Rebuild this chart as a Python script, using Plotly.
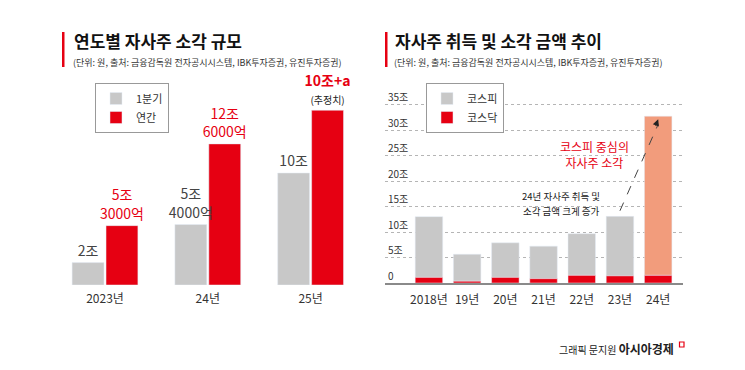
import plotly.graph_objects as go

W, H = 745, 370


def px(x):
    return x / W


def py(y):
    return 1 - y / H


RED = "#E60012"
GREY = "#C8C8C8"
SALMON = "#F29C7C"
DARK = "#333333"
FONT = "Noto Sans CJK KR"

# ---- Left chart data: 연도별 자사주 소각 규모 (조 원) ----
left_years = ["2023년", "24년", "25년"]
q1_values = [2.0, 5.4, 10.0]
annual_values = [5.3, 12.6, 15.6]
q1_labels = ["2조", "5조<br>4000억", "10조"]
annual_labels = [
    "5조<br>3000억",
    "12조<br>6000억",
    "<b>10조+a</b><br><span style='color:#222222;font-size:10px'>(추정치)</span>",
]

# ---- Right chart data: 자사주 취득 및 소각 금액 추이 (조 원) ----
right_years = ["2018년", "19년", "20년", "21년", "22년", "23년", "24년"]
kospi_values = [11.95, 5.3, 6.8, 6.4, 8.2, 11.7, 31.3]
kosdaq_values = [1.1, 0.35, 1.1, 0.85, 1.5, 1.4, 1.5]
y_ticks = [0, 5, 10, 15, 20, 25, 30, 35]
y_tick_labels = ["0", "5조", "10조", "15조", "20조", "25조", "30조", "35조"]
highlight_year = "24년"
arrow_start = ("23년", 14.2)
arrow_end = ("24년", 32.2)

kospi_colors = [SALMON if y == highlight_year else GREY for y in right_years]

fig = go.Figure()

# Left chart bars (annual first so the 1분기 labels are drawn on top)
fig.add_trace(go.Bar(
    x=left_years, y=annual_values, name="연간", marker_color=RED,
    width=0.31, offset=0.01, text=annual_labels, textposition="outside",
    textfont=dict(size=14, color=RED, family=FONT),
    cliponaxis=False, constraintext="none", legend="legend",
    xaxis="x", yaxis="y",
))
fig.add_trace(go.Bar(
    x=left_years, y=q1_values, name="1분기", marker_color=GREY,
    width=0.31, offset=-0.32, text=q1_labels, textposition="outside",
    textfont=dict(size=14, color="#444444", family=FONT),
    cliponaxis=False, constraintext="none", legend="legend",
    xaxis="x", yaxis="y",
))

# Right chart bars (stacked via base)
fig.add_trace(go.Bar(
    x=right_years, y=kospi_values, base=kosdaq_values, name="코스피",
    marker_color=kospi_colors, width=0.72, legend="legend2",
    xaxis="x2", yaxis="y2",
))
fig.add_trace(go.Bar(
    x=right_years, y=kosdaq_values, name="코스닥",
    marker_color=RED, width=0.72, legend="legend2",
    xaxis="x2", yaxis="y2",
))

annotations = [
    dict(text="<b>연도별 자사주 소각 규모</b>", x=px(72), y=py(41), xref="paper", yref="paper",
         xanchor="left", yanchor="middle", showarrow=False,
         font=dict(size=17, color="#111111", family=FONT)),
    dict(text="(단위: 원, 출처: 금융감독원 전자공시시스템, IBK투자증권, 유진투자증권)",
         x=px(71), y=py(62), xref="paper", yref="paper",
         xanchor="left", yanchor="middle", showarrow=False,
         font=dict(size=9, color=DARK, family=FONT)),
    dict(text="<b>자사주 취득 및 소각 금액 추이</b>", x=px(393), y=py(41), xref="paper", yref="paper",
         xanchor="left", yanchor="middle", showarrow=False,
         font=dict(size=17, color="#111111", family=FONT)),
    dict(text="(단위: 원, 출처: 금융감독원 전자공시시스템, IBK투자증권, 유진투자증권)",
         x=px(392), y=py(62), xref="paper", yref="paper",
         xanchor="left", yanchor="middle", showarrow=False,
         font=dict(size=9, color=DARK, family=FONT)),
    dict(text="코스피 중심의<br>자사주 소각", x=px(594), y=py(155), xref="paper", yref="paper",
         xanchor="center", yanchor="middle", showarrow=False, align="center",
         font=dict(size=12, color=RED, family=FONT)),
    dict(text="24년 자사주 취득 및", x=px(561), y=py(196), xref="paper", yref="paper",
         xanchor="center", yanchor="middle", showarrow=False, align="center", borderpad=0,
         font=dict(size=9.5, color="#222222", family=FONT)),
    dict(text="소각 금액 크게 증가", x=px(561), y=py(211), xref="paper", yref="paper",
         xanchor="center", yanchor="middle", showarrow=False, align="center", borderpad=0,
         font=dict(size=9.5, color="#222222", family=FONT)),
    dict(text="그래픽 문지원 <span style='font-size:12px'><b>아시아경제</b></span>",
         x=px(676), y=py(348), xref="paper", yref="paper",
         xanchor="right", yanchor="middle", showarrow=False,
         font=dict(size=10, color="#222222", family=FONT)),
    # arrow head
    dict(text="", x=arrow_end[0], y=arrow_end[1], xref="x2", yref="y2",
         ax=-3, ay=8, showarrow=True, arrowhead=2, arrowsize=1.3, arrowwidth=1,
         arrowcolor="#222222"),
]

shapes = [
    dict(type="rect", xref="paper", yref="paper", x0=px(62), x1=px(64.5), y0=py(67), y1=py(32),
         fillcolor=RED, line=dict(width=0)),
    dict(type="rect", xref="paper", yref="paper", x0=px(385), x1=px(387.5), y0=py(67), y1=py(32),
         fillcolor=RED, line=dict(width=0)),
    dict(type="line", xref="x2", yref="y2", x0=arrow_start[0], y0=arrow_start[1],
         x1=arrow_end[0], y1=arrow_end[1] - 1.0,
         line=dict(color="#444444", width=1, dash="dash")),
    dict(type="rect", xref="paper", yref="paper", x0=px(679.5), x1=px(684), y0=py(347), y1=py(342),
         fillcolor="rgba(0,0,0,0)", line=dict(color=RED, width=1.2)),
]

Y2_MAX = 40
Y2_PX_PER_UNIT = 5.086

fig.update_layout(
    width=W, height=H,
    margin=dict(l=0, r=0, t=0, b=0),
    paper_bgcolor="white", plot_bgcolor="white",
    barmode="overlay",
    font=dict(family=FONT, color=DARK),
    xaxis=dict(domain=[px(53.6), px(362)], range=[-0.5, 2.5], type="category",
               anchor="y", showline=False, showgrid=False, ticks="",
               ticklabelstandoff=5,
               tickfont=dict(size=12, color=DARK, family=FONT)),
    yaxis=dict(domain=[py(285), py(83.4)], range=[0, 18], anchor="x", visible=False),
    xaxis2=dict(domain=[px(385), px(683)], range=[-1.15, 6.65], type="category",
                anchor="y2", showline=True, linecolor="#8A8A8A", linewidth=1.5,
                showgrid=False, ticks="", ticklabelstandoff=5,
                tickfont=dict(size=12, color=DARK, family=FONT)),
    yaxis2=dict(domain=[py(283), py(283 - Y2_MAX * Y2_PX_PER_UNIT)], range=[0, Y2_MAX], anchor="x2",
                tickmode="array", tickvals=y_ticks, ticktext=y_tick_labels,
                ticklabelposition="inside top", ticklabeloverflow="allow", ticks="",
                showgrid=True, gridcolor="#B5B5B5", griddash="dot", gridwidth=1,
                zeroline=False, showline=False,
                tickfont=dict(size=10, color=DARK, family=FONT)),
    legend=dict(x=px(95), y=py(83), xanchor="left", yanchor="top",
                bgcolor="white", bordercolor="#999999", borderwidth=1,
                traceorder="reversed",
                font=dict(size=11, color=DARK, family=FONT)),
    legend2=dict(x=px(426), y=py(83), xanchor="left", yanchor="top",
                 bgcolor="white", bordercolor="#999999", borderwidth=1,
                 font=dict(size=11, color=DARK, family=FONT)),
    annotations=annotations,
    shapes=shapes,
    showlegend=True,
)

fig.write_html("out.html", config={"displayModeBar": False},
               post_script="document.body.style.margin='0';")
